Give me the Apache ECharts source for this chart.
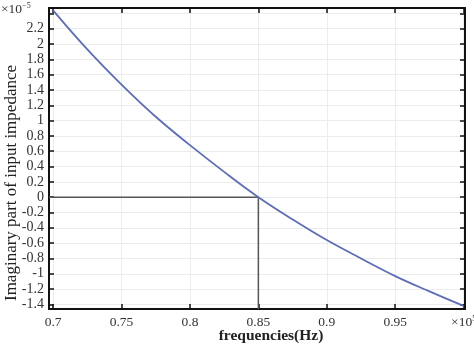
<!DOCTYPE html>
<html><head><meta charset="utf-8">
<script src="https://cdn.jsdelivr.net/npm/echarts@6/dist/echarts.min.js"></script>
<style>html,body{margin:0;padding:0;background:#fff}#c{width:474px;height:344px}</style>
</head><body><div id="c"></div>
<script>
const freq = [0.700, 0.725, 0.750, 0.775, 0.800, 0.825, 0.850, 0.875, 0.900, 0.925, 0.950, 0.975, 1.000];
const imagZ = [2.44, 1.93, 1.47, 1.05, 0.68, 0.33, 0.00, -0.29, -0.56, -0.80, -1.03, -1.23, -1.42];
const xTicks = [0.7, 0.75, 0.8, 0.85, 0.9, 0.95, 1.0];
const xTickLabels = ['0.7', '0.75', '0.8', '0.85', '0.9', '0.95', '{m|\u00d710}{s|5}'];
const yTicks = [-1.4, -1.2, -1, -0.8, -0.6, -0.4, -0.2, 0, 0.2, 0.4, 0.6, 0.8, 1, 1.2, 1.4, 1.6, 1.8, 2, 2.2, 2.4];
const yLabelTicks = [-1.4, -1.2, -1, -0.8, -0.6, -0.4, -0.2, 0, 0.2, 0.4, 0.6, 0.8, 1, 1.2, 1.4, 1.6, 1.8, 2, 2.2];
const xMin = 0.697, xMax = 1.001, yMin = -1.46, yMax = 2.47;
const resonance = 0.85;
const refLine = [[xMin, 0], [resonance, 0], [resonance, yMin]];
const yTitle = 'Imaginary part of input impedance';
const xTitle = 'frequencies(Hz)';

const font = 'Liberation Serif';
const chart = echarts.init(document.getElementById('c'));
const rich = {
  m: {fontFamily: font, fontSize: 13.5, color: '#333'},
  s: {fontFamily: font, fontSize: 8, color: '#333', padding: [0, 0, 7, 0]}
};
const xBase = {
  type: 'value', min: xMin, max: xMax,
  axisLine: {show: true, onZero: false, lineStyle: {color: '#111', width: 2}},
  axisTick: {show: true, inside: true, length: 5, customValues: xTicks, lineStyle: {color: '#111', width: 1.5}},
};
const yBase = {
  type: 'value', min: yMin, max: yMax,
  axisLine: {show: true, onZero: false, lineStyle: {color: '#111', width: 2}},
  axisTick: {show: true, inside: true, length: 5, customValues: yTicks, lineStyle: {color: '#111', width: 1.5}},
};
chart.setOption({
  animation: false,
  grid: {left: 49, right: 9, top: 8, bottom: 35, containLabel: false, outerBoundsMode: 'none'},
  xAxis: [
    Object.assign({}, xBase, {
      position: 'bottom',
      axisLabel: {customValues: xTicks, margin: 6, fontFamily: font, fontSize: 13.5, color: '#333', rich: rich,
        formatter: v => { const i = xTicks.findIndex(t => Math.abs(t - v) < 1e-9); return i >= 0 ? xTickLabels[i] : ''; }},
      splitLine: {show: true, lineStyle: {color: '#ececec', width: 1}}
    }),
    Object.assign({}, xBase, {position: 'top', axisLabel: {show: false}, splitLine: {show: false}})
  ],
  yAxis: [
    Object.assign({}, yBase, {
      position: 'left',
      axisLabel: {customValues: yLabelTicks, margin: 5, fontFamily: font, fontSize: 14, color: '#333'},
      splitLine: {show: true, lineStyle: {color: '#ececec', width: 1}}
    }),
    Object.assign({}, yBase, {position: 'right', axisLabel: {show: false}, splitLine: {show: false}})
  ],
  graphic: [
    {type: 'text', x: 1, y: 2, style: {text: '{m|\u00d710}{s|\u22125}', rich: rich, fill: '#333'}},
    {type: 'text', x: 12, y: 183, rotation: Math.PI / 2,
     style: {text: yTitle, fontFamily: font, fontSize: 17, fill: '#222', align: 'center', verticalAlign: 'middle'}},
    {type: 'text', x: 271, y: 336,
     style: {text: xTitle, fontFamily: font, fontSize: 15.5, fontWeight: 'bold', fill: '#222', align: 'center', verticalAlign: 'middle'}}
  ],
  series: [
    {type: 'line', data: refLine, showSymbol: false, lineStyle: {color: '#555', width: 1.5}, z: 2},
    {type: 'line', data: freq.map((f, i) => [f, imagZ[i]]), smooth: 0.4, showSymbol: false,
     lineStyle: {color: '#5b6dbb', width: 1.8}, z: 3}
  ]
});
</script></body></html>
